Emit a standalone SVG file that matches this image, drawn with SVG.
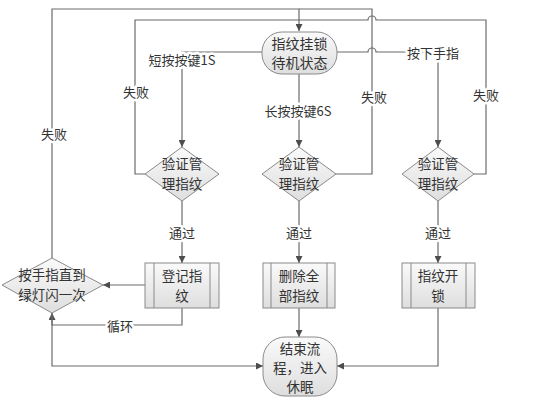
<svg xmlns="http://www.w3.org/2000/svg" width="534" height="400" viewBox="0 0 534 400">
<defs>
<linearGradient id="g" x1="0" y1="0" x2="0" y2="1">
<stop offset="0" stop-color="#fafafa"/>
<stop offset="1" stop-color="#dedede"/>
</linearGradient>
<marker id="ar" viewBox="0 0 10 10" refX="10" refY="5" markerWidth="7" markerHeight="7" markerUnits="userSpaceOnUse" orient="auto">
<path d="M0,0 L10,5 L0,10 z" fill="#4d4d4d"/>
</marker>
<style>
.n{fill:url(#g);stroke:#8a8a8a;stroke-width:1}
.c{fill:none;stroke:#6b6b6b;stroke-width:1.2}
.a{marker-end:url(#ar)}
text{font-family:"Noto Sans CJK SC","Liberation Sans",sans-serif;fill:#333;text-anchor:middle;dominant-baseline:central}
.t{font-size:13.5px}
.l{font-size:13px;stroke:#fff;stroke-width:5;paint-order:stroke;stroke-linejoin:round}
</style>
</defs>
<rect width="534" height="400" fill="#fff"/>
<g id="connectors">
<path class="c a" d="M52,258 V9 H299 V31"/>
<path class="c" d="M335,174 H372 V9 H299"/>
<path class="c" d="M147,174 H135 V20 H299"/>
<path class="c" d="M474,174 H486 V20 H376 a4,4 0 0 0 -8,0 H299"/>
<path class="c a" d="M262,52 H182 V147"/>
<path class="c a" d="M337,52 H368 a4,4 0 0 1 8,0 H438 V147"/>
<path class="c a" d="M299,74 V147"/>
<path class="c a" d="M182,201 V263"/>
<path class="c a" d="M299,201 V263"/>
<path class="c a" d="M438,201 V263"/>
<path class="c a" d="M145,285 H103"/>
<path class="c a" d="M182,308 V325 H52 V313"/>
<path class="c a" d="M52,313 V366 H263"/>
<path class="c a" d="M299,308 V337"/>
<path class="c a" d="M438,308 V366 H337"/>
<text class="l" x="182" y="59">短按按键1S</text>
<text class="l" x="433" y="52">按下手指</text>
<text class="l" x="298" y="110">长按按键6S</text>
<text class="l" x="54" y="133">失败</text>
<text class="l" x="136" y="91">失败</text>
<text class="l" x="374" y="96">失败</text>
<text class="l" x="486" y="94">失败</text>
<text class="l" x="182" y="232">通过</text>
<text class="l" x="299" y="232">通过</text>
<text class="l" x="438" y="232">通过</text>
<text class="l" x="120" y="325">循环</text>
</g>
<g id="start">
<rect class="n" x="262" y="32" width="75" height="42" rx="20" ry="20"/>
<text class="t" x="299.5" y="43" style="font-size:14px">指纹挂锁</text>
<text class="t" x="299.5" y="62" style="font-size:14px">待机状态</text>
</g>
<g id="verify1">
<path class="n" d="M182,147 L219,174 L182,201 L145,174 Z"/>
<text class="t" x="182" y="163">验证管</text>
<text class="t" x="182" y="183">理指纹</text>
</g>
<g id="verify2">
<path class="n" d="M299,147 L336,174 L299,201 L262,174 Z"/>
<text class="t" x="299" y="163">验证管</text>
<text class="t" x="299" y="183">理指纹</text>
</g>
<g id="verify3">
<path class="n" d="M438,147 L474,174 L438,201 L402,174 Z"/>
<text class="t" x="438" y="163">验证管</text>
<text class="t" x="438" y="183">理指纹</text>
</g>
<g id="register">
<rect class="n" x="145" y="263" width="74" height="45"/>
<path d="M154,263 V308 M210,263 V308" stroke="#8a8a8a" fill="none"/>
<text class="t" x="182" y="275">登记指</text>
<text class="t" x="182" y="295">纹</text>
</g>
<g id="delete">
<rect class="n" x="263" y="263" width="72" height="45"/>
<path d="M271,263 V308 M327,263 V308" stroke="#8a8a8a" fill="none"/>
<text class="t" x="299" y="275">删除全</text>
<text class="t" x="299" y="295">部指纹</text>
</g>
<g id="unlock">
<rect class="n" x="402" y="263" width="73" height="45"/>
<path d="M411,263 V308 M466,263 V308" stroke="#8a8a8a" fill="none"/>
<text class="t" x="438" y="275">指纹开</text>
<text class="t" x="438" y="295">锁</text>
</g>
<g id="press">
<path class="n" d="M52,258 L103,285 L52,313 L2,285 Z"/>
<text class="t" x="52" y="274">按手指直到</text>
<text class="t" x="52" y="294">绿灯闪一次</text>
</g>
<g id="end">
<rect class="n" x="263" y="337" width="74" height="59" rx="22" ry="22"/>
<text class="t" x="300" y="348">结束流</text>
<text class="t" x="300" y="367">程，进入</text>
<text class="t" x="300" y="386">休眠</text>
</g>
</svg>
